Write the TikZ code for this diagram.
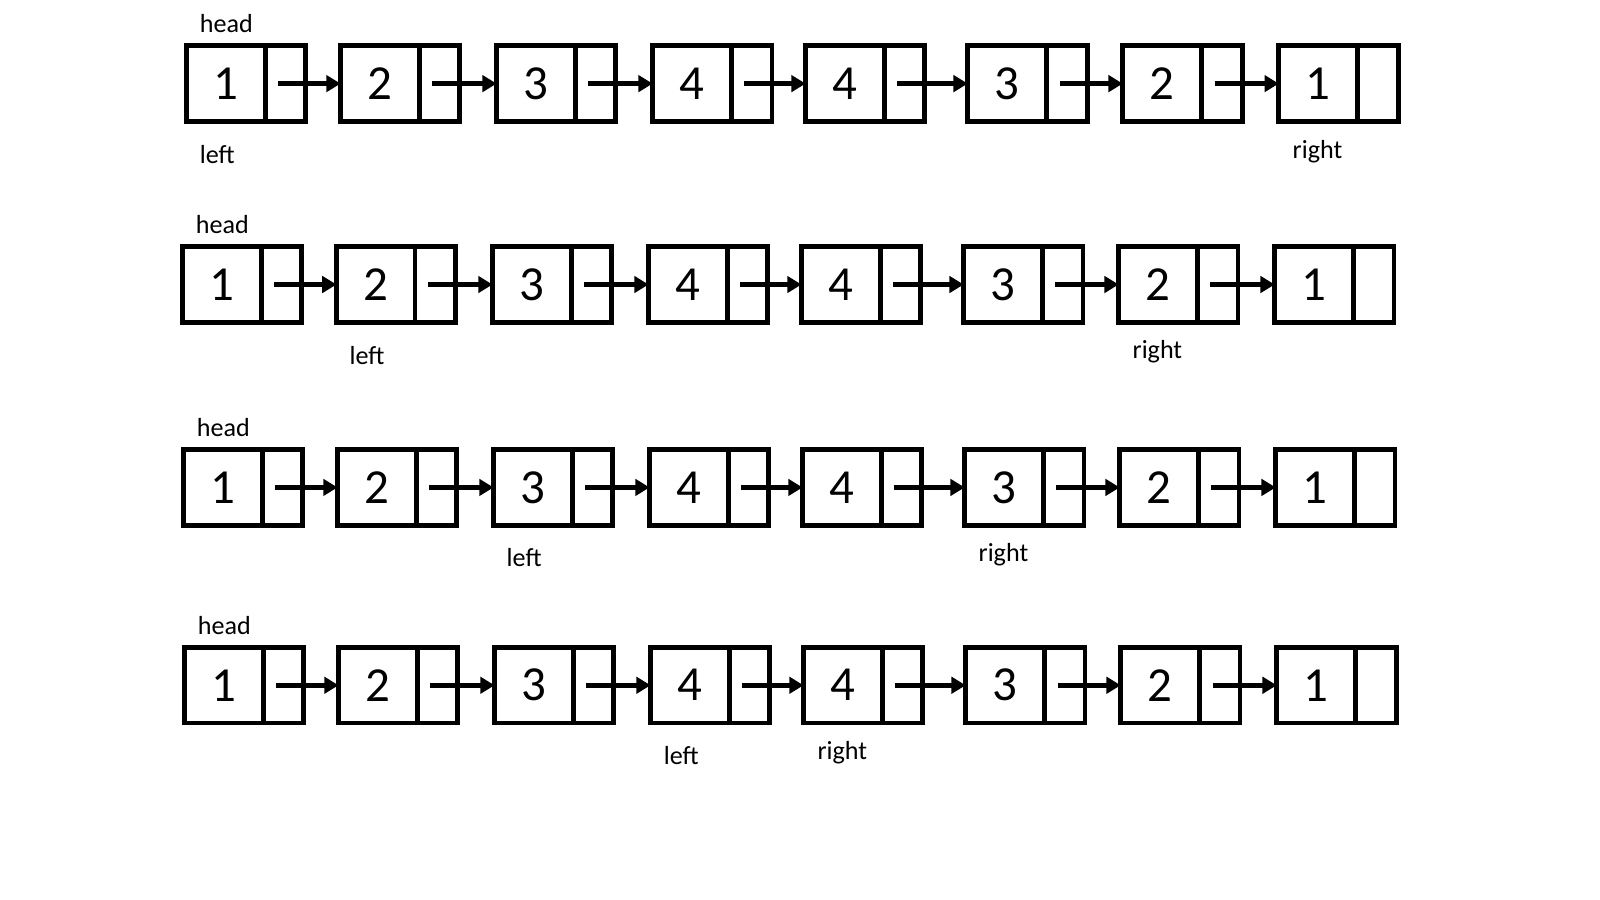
\documentclass[tikz,border=0pt]{standalone}
\usepackage{fontspec}
\setmainfont{Carlito}
\usetikzlibrary{arrows.meta,calc}
\tikzset{
  valcell/.style={draw,line width=2.4pt,rectangle,inner sep=0,outer sep=0,minimum width=38.5pt,minimum height=37pt,anchor=west,font=\fontsize{24}{24}\selectfont},
  ptrcell/.style={draw,line width=2.4pt,rectangle,inner sep=0,outer sep=0,minimum width=20pt,minimum height=37pt,anchor=west},
  link/.style={line width=2.3pt,-{Triangle[length=7pt,width=8pt]}},
  lbl/.style={anchor=base,inner sep=0,font=\fontsize{12.8}{13}\selectfont}
}
\begin{document}
\begin{tikzpicture}[x=0.5pt,y=-0.5pt]
\useasboundingbox (0,0) rectangle (1569,882);
\foreach \r/\lx/\ty/\lk/\rk in {1/183/45/1/8, 2/179/242/2/7, 3/180/441/3/6, 4/181/635/4/5}{
  \foreach \k/\off/\v in {1/0/1, 2/151/2, 3/304/3, 4/457/4, 5/607/4, 6/766/3, 7/918/2, 8/1071/1}{
    \node[valcell] (r\r v\k) at (\lx+\off,\ty+37) {\v};
    \node[ptrcell] (r\r p\k) at (r\r v\k.east) {};
  }
  \foreach \k [evaluate=\k as \n using int(\k+1)] in {1,...,7}{
    \draw[link] ($(r\r p\k.west)+(13,0)$) -- (r\r v\n.west);
  }
  \node[lbl] (r\r head) at ($(r\r v1.north west)+(39,-13)$) {head};
  \node[lbl] (r\r left) at ($(r\r v\lk.south west)+(30,41)$) {left};
  \node[lbl] (r\r right) at ($(r\r v\rk.south west)+(38,36)$) {right};
}
\end{tikzpicture}
\end{document}
